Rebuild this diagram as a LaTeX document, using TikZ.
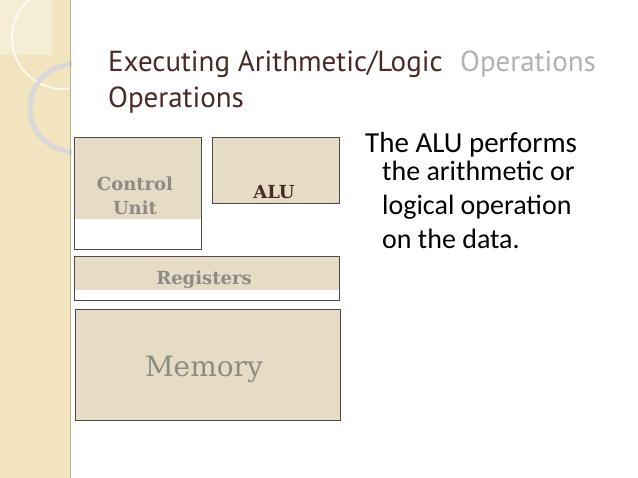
\documentclass[tikz,border=0pt]{standalone}
\usepackage{fontspec}
\setmainfont{Carlito}
\newfontfamily\titlefont{PT Sans}
\newfontfamily\boxfont{DejaVu Serif}
\definecolor{strip}{HTML}{F2E4BF}
\definecolor{boxfill}{HTML}{E6DCC6}
\definecolor{brown}{HTML}{4A2A22}
\definecolor{lgray}{HTML}{8E8A84}
\begin{document}
\begin{tikzpicture}[x=1pt,y=-1pt,
  boxline/.style={draw=black!70,line width=0.9pt},
  lbl/.style={font=\boxfont\bfseries,text=lgray}]
\useasboundingbox (0,0) rectangle (638,478);
\fill[white] (0,0) rectangle (638,478);
% left strip
\fill[strip] (0,0) rectangle (70,478);
\fill[white,opacity=0.35] (0,0) rectangle (52,55);
\begin{scope}
\clip (0,0) rectangle (72,478);
\draw[white!92!strip,line width=1.5pt] (63,38) circle (51);
\draw[black!15,line width=5pt] (74,108) circle (44);
\end{scope}
\draw[strip!70!brown,line width=0.8pt] (70,0) -- (70,478);
% title
\node[anchor=base west,font=\titlefont\fontsize{29}{34}\selectfont,text=black!30,inner sep=0] (ghost) at (460,72) {Operations};
\node[anchor=base west,font=\titlefont\fontsize{29}{34}\selectfont,text=brown,inner sep=0] (t1) at (108,72) {Executing Arithmetic/Logic};
\node[anchor=base west,font=\titlefont\fontsize{29}{34}\selectfont,text=brown,inner sep=0] (t2) at (108,108) {Operations};
% boxes
\fill[boxfill] (74,137) rectangle (201,219);
\draw[boxline] (74,137) rectangle (201,249);
\node[lbl,align=center,font=\boxfont\bfseries\fontsize{18}{24}\selectfont] (cu) at (135,196) {Control\\Unit};
\draw[boxline,fill=boxfill] (212,137) rectangle (339,203);
\node[font=\boxfont\bfseries\fontsize{18}{20}\selectfont,text=brown] (alu) at (274,192) {ALU};
\fill[boxfill] (74,256) rectangle (339,290);
\draw[boxline] (74,256) rectangle (339,300);
\node[lbl,font=\boxfont\bfseries\fontsize{18}{20}\selectfont] (reg) at (204,280) {Registers};
\draw[boxline,fill=boxfill] (75,309) rectangle (340,420);
\node[font=\boxfont\fontsize{28}{32}\selectfont,text=lgray] (mem) at (204,369) {Memory};
% body text
\node[anchor=base west,inner sep=0,font=\fontsize{29}{34}\selectfont] (b1) at (365,153) {The ALU performs};
\node[anchor=north west,inner sep=0,align=left,font=\fontsize{28}{34}\selectfont] (b2) at (382,161) {the arithmetic or\\logical operation\\on the data.};
\end{tikzpicture}
\end{document}
